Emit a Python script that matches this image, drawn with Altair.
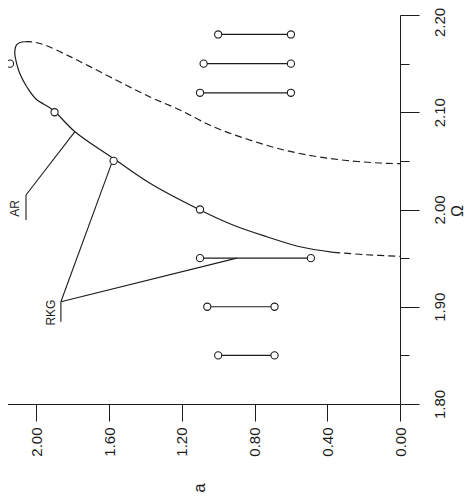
import altair as alt
import pandas as pd

# ---- data (a = amplitude, omega = frequency) ----
solid_a = [2.063, 2.090, 2.109, 2.118, 2.118, 2.109, 2.090, 2.052, 2.002, 1.909,
           1.788, 1.577, 1.375, 1.100, 0.919, 0.733, 0.550, 0.367]
solid_omega = [2.1725, 2.1717, 2.1692, 2.1640, 2.1589, 2.1506, 2.1393, 2.1260, 2.1136, 2.1023,
               2.0800, 2.0526, 2.0269, 1.9995, 1.9841, 1.9720, 1.9617, 1.9560]

upper_dash_a = [2.063, 2.019, 1.953, 1.833, 1.705, 1.540, 1.375, 1.210, 1.027, 0.843,
                0.660, 0.477, 0.293, 0.110, 0.0]
upper_dash_omega = [2.1725, 2.1722, 2.1691, 2.1589, 2.1469, 2.1311, 2.1157, 2.1023, 2.0851, 2.0725,
                    2.0622, 2.0550, 2.0504, 2.0478, 2.0471]

lower_dash_a = [0.367, 0.187, 0.0]
lower_dash_omega = [1.9560, 1.9535, 1.9518]

pair_omega = [2.18, 2.15, 2.12, 1.95, 1.90, 1.85]
pair_a_left = [1.00, 1.08, 1.10, 1.10, 1.06, 1.00]
pair_a_right = [0.60, 0.60, 0.60, 0.49, 0.69, 0.69]

single_omega = [2.15, 2.10, 2.05, 2.00]
single_a = [2.145, 1.90, 1.575, 1.10]

label_text = ["AR", "RKG"]
label_a = [2.096, 1.895]
label_omega = [2.001, 1.894]

leader_a1 = [2.057, 2.057, 1.865, 1.865, 1.865]
leader_o1 = [2.0149, 2.0149, 1.9052, 1.9052, 1.9052]
leader_a2 = [2.057, 1.788, 1.865, 1.585, 0.898]
leader_o2 = [1.9892, 2.0800, 1.8846, 2.0480, 1.9500]

a_ticks = [0.0, 0.2, 0.4, 0.6, 0.8, 1.0, 1.2, 1.4, 1.6, 1.8, 2.0, 2.2]
omega_ticks = [1.80, 1.85, 1.90, 1.95, 2.00, 2.05, 2.10, 2.15, 2.20]
axis_titles = ["a", "Ω"]

INK = "#1c1c1c"
FONT = "Liberation Sans"

def line_df(a, o):
    return pd.DataFrame({"a": a, "omega": o, "order": list(range(len(a)))})

x_scale = alt.Scale(domain=[0, 2.2], reverse=True, nice=False, zero=False)
y_scale = alt.Scale(domain=[1.8, 2.2], nice=False, zero=False)

major_test = "abs(datum.value*10 - round(datum.value*10)) < 0.01"

x_enc = alt.X(
    "a:Q", scale=x_scale,
    axis=alt.Axis(
        values=a_ticks, grid=False, tickSize=17, tickColor=INK, domainColor=INK,
        tickWidth=1, domainWidth=1,
        labelExpr="round(datum.value*10) % 4 == 0 ? format(datum.value, '.2f') : ''",
        labelAngle=270, labelAlign="right", labelBaseline="middle", labelPadding=6,
        labelFontSize=15, labelFont=FONT, labelColor=INK, labelOverlap=False,
        title="",
    ),
)
y_enc = alt.Y(
    "omega:Q", scale=y_scale,
    axis=alt.Axis(
        orient="right", values=omega_ticks, grid=False,
        tickSize={"condition": {"test": major_test, "value": 19}, "value": 9},
        tickColor=INK, domainColor=INK, tickWidth=1, domainWidth=1,
        labelExpr=major_test + " ? format(datum.value, '.2f') : ''",
        labelAngle=270, labelAlign="center", labelBaseline="top", labelPadding=13,
        labelOffset={"condition": {"test": "datum.value > 2.19", "value": 7}, "value": 0},
        labelFontSize=15, labelFont=FONT, labelColor=INK, labelOverlap=False,
        title="",
    ),
)

solid = alt.Chart(line_df(solid_a, solid_omega)).mark_line(
    color=INK, strokeWidth=1.2, interpolate="catmull-rom"
).encode(x=x_enc, y=y_enc, order="order:Q")

upper = alt.Chart(line_df(upper_dash_a, upper_dash_omega)).mark_line(
    color=INK, strokeWidth=1.2, strokeDash=[7, 4], interpolate="catmull-rom"
).encode(x="a:Q", y="omega:Q", order="order:Q")

lower = alt.Chart(line_df(lower_dash_a, lower_dash_omega)).mark_line(
    color=INK, strokeWidth=1.2, strokeDash=[7, 4], interpolate="catmull-rom"
).encode(x="a:Q", y="omega:Q", order="order:Q")

pairs_df = pd.DataFrame({"omega": pair_omega, "a1": pair_a_left, "a2": pair_a_right})
pair_lines = alt.Chart(pairs_df).mark_rule(color=INK, strokeWidth=1.2).encode(
    x="a1:Q", x2="a2:Q", y="omega:Q"
)

leaders_df = pd.DataFrame({"a1": leader_a1, "o1": leader_o1, "a2": leader_a2, "o2": leader_o2})
leaders = alt.Chart(leaders_df).mark_rule(color=INK, strokeWidth=1.1).encode(
    x="a1:Q", x2="a2:Q", y="o1:Q", y2="o2:Q"
)

pts_df = pd.DataFrame({
    "a": pair_a_left + pair_a_right + single_a,
    "omega": pair_omega + pair_omega + single_omega,
})
points = alt.Chart(pts_df).mark_point(
    shape="circle", filled=True, fill="white", stroke=INK, strokeWidth=1.1,
    size=52, opacity=1
).encode(x="a:Q", y="omega:Q")

labels_df = pd.DataFrame({"a": label_a, "omega": label_omega, "t": label_text})
labels = alt.Chart(labels_df).mark_text(
    angle=270, align="center", baseline="alphabetic", fontSize=12, font=FONT, color=INK
).encode(x="a:Q", y="omega:Q", text="t:N")

# rotated axis titles, placed in pixel space of the plot area
x_title = alt.Chart(pd.DataFrame({"t": [axis_titles[0]]})).mark_text(
    angle=270, align="center", baseline="middle", fontSize=17, font=FONT, color=INK
).encode(x=alt.value(200), y=alt.value(473), text="t:N")

y_title = alt.Chart(pd.DataFrame({"t": [axis_titles[1]]})).mark_text(
    angle=270, align="center", baseline="middle", fontSize=16, font=FONT, color=INK
).encode(x=alt.value(458), y=alt.value(196), text="t:N")

chart = alt.layer(
    solid, upper, lower, leaders, pair_lines, points, labels, x_title, y_title
).properties(
    width=400, height=389,
    autosize="none",
    padding={"left": -8, "top": 7, "right": 66, "bottom": 89},
    background="white",
).configure_view(strokeWidth=0)

chart.save("out.html", embed_options={"renderer": "svg", "actions": False})
